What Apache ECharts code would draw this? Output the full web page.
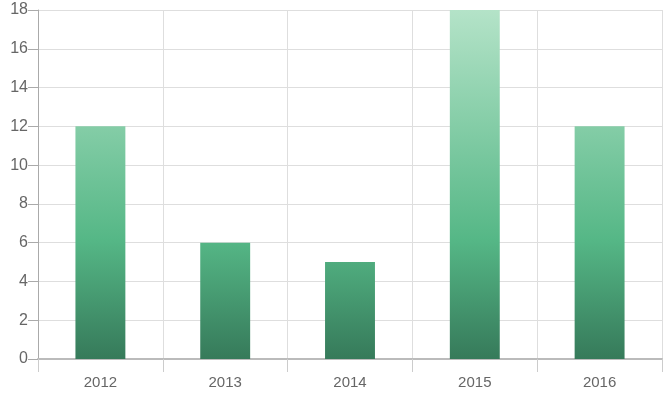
<!DOCTYPE html>
<html><head><meta charset="utf-8">
<script src="https://cdn.jsdelivr.net/npm/echarts@6/dist/echarts.min.js"></script>
<style>html,body{margin:0;padding:0;background:#fff}#c{width:666px;height:400px}</style>
</head><body><div id="c"></div>
<script>
const categories = ['2012', '2013', '2014', '2015', '2016'];
const values = [12, 6, 5, 18, 12];
const yTicks = { min: 0, max: 18, interval: 2 };

const chart = echarts.init(document.getElementById('c'), null, { renderer: 'canvas' });
const gridTop = 10, gridBottom = 41;
chart.setOption({
  animation: false,
  grid: { left: 38, right: 4, top: gridTop, bottom: gridBottom },
  xAxis: {
    type: 'category',
    data: categories,
    boundaryGap: true,
    axisLine: { show: true, lineStyle: { color: '#bbb', width: 2 } },
    axisTick: { show: true, length: 13, alignWithLabel: false, lineStyle: { color: '#ccc' } },
    splitLine: { show: true, lineStyle: { color: '#dedede' } },
    axisLabel: { color: '#666', fontSize: 15, fontFamily: 'Liberation Sans', margin: 16 }
  },
  yAxis: {
    type: 'value',
    min: yTicks.min, max: yTicks.max, interval: yTicks.interval,
    axisLine: { show: true, lineStyle: { color: '#aaa' } },
    axisTick: { show: true, length: 10, lineStyle: { color: '#aaa' } },
    splitLine: { show: true, lineStyle: { color: '#dedede' } },
    axisLabel: { color: '#666', fontSize: 16, fontFamily: 'Liberation Sans', margin: 10 }
  },
  series: [{
    type: 'bar',
    data: values,
    barWidth: '40%',
    itemStyle: {
      color: new echarts.graphic.LinearGradient(0, gridTop, 0, 400 - gridBottom, [
        { offset: 0, color: '#b4e3c8' },
        { offset: 0.66, color: '#55b786' },
        { offset: 1, color: '#367a5a' }
      ], true)
    }
  }]
});
</script></body></html>
